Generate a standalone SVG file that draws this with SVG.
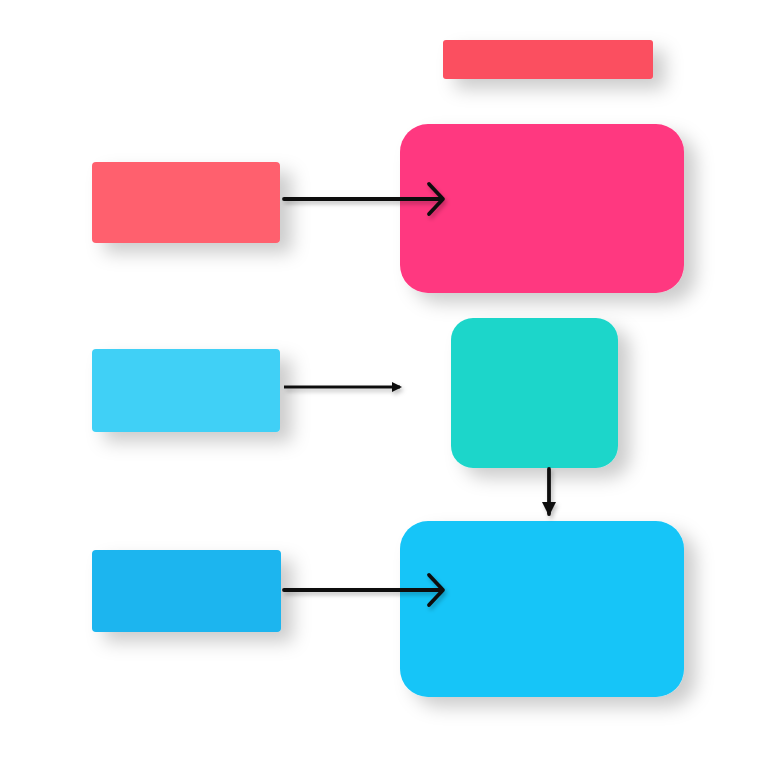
<svg xmlns="http://www.w3.org/2000/svg" width="768" height="768" viewBox="0 0 768 768">
<style>
.ln{stroke:#111;stroke-width:3.8;fill:none;stroke-linecap:round;stroke-linejoin:round}
.thin{stroke:#111;stroke-width:3;fill:none}
</style>
<defs>
<filter id="sh" x="-30%" y="-80%" width="180%" height="300%">
<feDropShadow dx="12" dy="10" stdDeviation="9" flood-color="#000" flood-opacity="0.2"/>
</filter>
<filter id="ash" x="-10%" y="-50%" width="120%" height="300%">
<feDropShadow dx="2" dy="3" stdDeviation="2" flood-color="#000" flood-opacity="0.25"/>
</filter>
<marker id="tri" markerWidth="10" markerHeight="10" refX="8" refY="5" orient="auto" markerUnits="userSpaceOnUse">
<path d="M0,0 L10,5 L0,10 Z" fill="#111"/>
</marker>
<marker id="tri2" markerWidth="14" markerHeight="14" refX="12" refY="7" orient="auto" markerUnits="userSpaceOnUse">
<path d="M0,0 L14,7 L0,14 Z" fill="#111"/>
</marker>
</defs>
<rect width="768" height="768" fill="#ffffff"/>
<g id="top-bar" filter="url(#sh)"><rect x="443" y="40" width="210" height="39" rx="3" fill="#fb5060"/></g>
<g id="red-box" filter="url(#sh)"><rect x="92" y="162" width="188" height="81" rx="4" fill="#ff606e"/></g>
<g id="pink-box" filter="url(#sh)"><rect x="400" y="124" width="284" height="169" rx="28" fill="#ff3880"/></g>
<g id="cyan-box" filter="url(#sh)"><rect x="92" y="349" width="188" height="83" rx="4" fill="#40d0f6"/></g>
<g id="teal-box" filter="url(#sh)"><rect x="451" y="318" width="167" height="150" rx="22" fill="#1ed6ca"/></g>
<g id="blue-box-small" filter="url(#sh)"><rect x="92" y="550" width="189" height="82" rx="4" fill="#1ab5ef"/></g>
<g id="blue-box-big" filter="url(#sh)"><rect x="400" y="521" width="284" height="176" rx="28" fill="#14c5f8"/></g>
<g id="connectors" filter="url(#ash)">
<path class="ln" d="M284,199 L442,199 M429,184 L443,199 L429,214"/>
<line class="thin" x1="284" y1="387" x2="400" y2="387" marker-end="url(#tri)"/>
<line class="ln" x1="549" y1="469" x2="549" y2="514" marker-end="url(#tri2)"/>
<path class="ln" d="M284,590 L442,590 M429,575 L443,590 L429,605"/>
</g>
</svg>
